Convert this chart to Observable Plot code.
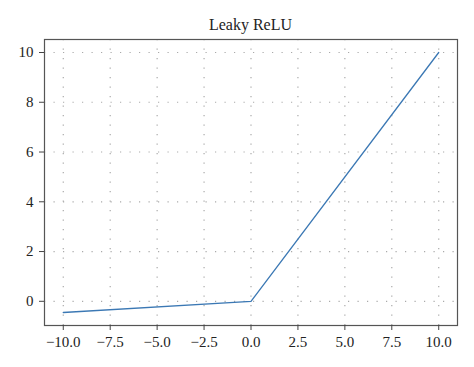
<!DOCTYPE html>
<html>
<head>
<meta charset="utf-8">
<script src="https://cdn.jsdelivr.net/npm/d3@7"></script>
<script src="https://cdn.jsdelivr.net/npm/@observablehq/plot@0.6"></script>
<style>
  html, body { margin: 0; padding: 0; background: #fff; }
  #title { height: 30px; width: 474px; font-family: "Liberation Serif", serif; font-size: 16px; line-height: 16px; position: relative; }
  #title span { position: absolute; left: 44px; width: 413px; text-align: center; top: 17px; color: #222; }
</style>
</head>
<body>
<div id="title"><span>Leaky ReLU</span></div>
<div id="chart"></div>
<script>
const xs = [-10, 0, 10];
const ys = [-0.45, 0, 10];
const xTicks = [-10, -7.5, -5, -2.5, 0, 2.5, 5, 7.5, 10];
const yTicks = [0, 2, 4, 6, 8, 10];

const data = xs.map((x, i) => ({x, y: ys[i]}));
const fmt = d => d.toFixed(1).replace("-", "\u2212");

const chart = Plot.plot({
  width: 474,
  height: 337,
  marginTop: 9,
  marginBottom: 42,
  marginLeft: 44,
  marginRight: 17,
  style: { fontFamily: "'Liberation Serif', serif", fontSize: "15px", color: "#222", background: "#fff" },
  x: { domain: [-11, 11] },
  y: { domain: [-0.9725, 10.5225] },
  marks: [
    Plot.gridX(xTicks, { stroke: "#aaa", strokeOpacity: 1, strokeWidth: 1.2, strokeDasharray: "1.2,8.3" }),
    Plot.gridY(yTicks, { stroke: "#aaa", strokeOpacity: 1, strokeWidth: 1.2, strokeDasharray: "1.2,8.3" }),
    Plot.frame({ stroke: "#555", strokeWidth: 1.2 }),
    Plot.axisX(xTicks, { tickSize: 5, tickPadding: 6, tickFormat: fmt, stroke: "#444", label: null }),
    Plot.axisY(yTicks, { tickSize: 5, tickPadding: 6, tickFormat: d => String(d), stroke: "#444", label: null }),
    Plot.line(data, { x: "x", y: "y", stroke: "#3b78b4", strokeWidth: 1.3 })
  ]
});
document.getElementById("chart").appendChild(chart);
</script>
</body>
</html>
